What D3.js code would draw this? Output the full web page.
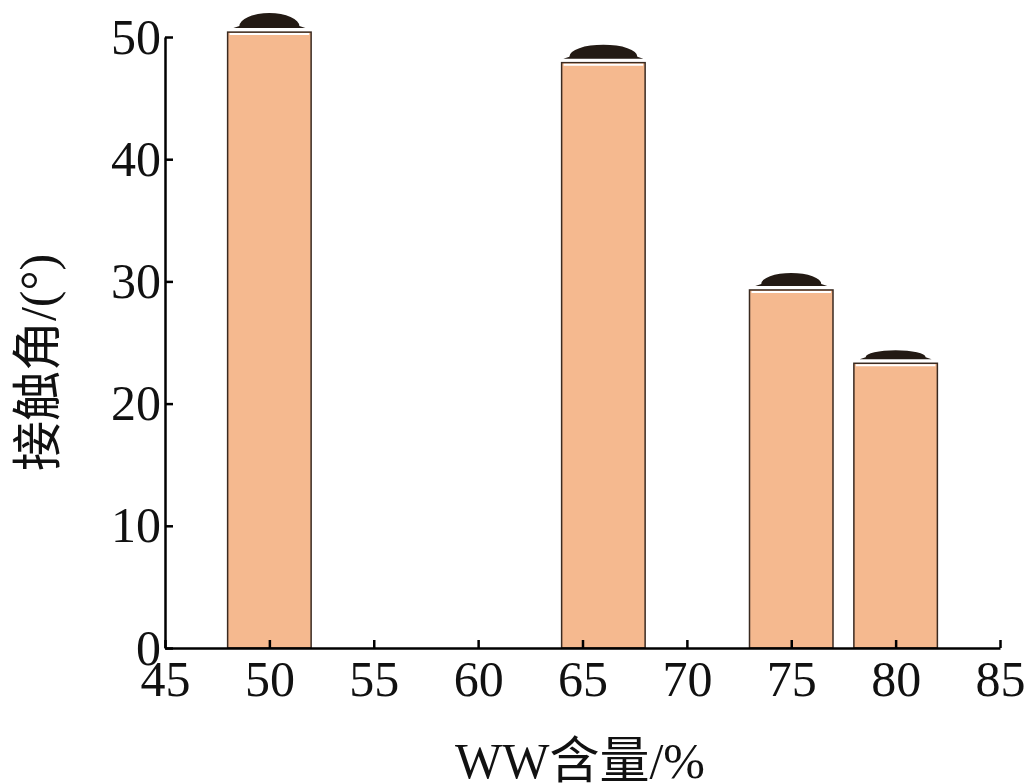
<!DOCTYPE html>
<html><head><meta charset="utf-8">
<script src="https://cdn.jsdelivr.net/npm/d3@7/dist/d3.min.js"></script>
<style>body{margin:0;background:#fff}</style></head>
<body><div id="chart"></div>
<script>
const wwContent = [50, 66, 75, 80]
const contactAngle = [50.4, 47.9, 29.3, 23.3]
const xTicks = [45, 50, 55, 60, 65, 70, 75, 80, 85]
const yTicks = [0, 10, 20, 30, 40, 50]

const W = 1027, H = 784
const margins = {top: 37, right: 27, bottom: 136, left: 165}
const width = W - margins.left - margins.right
const height = H - margins.top - margins.bottom

const xScale = d3.scaleLinear().domain([45, 85]).range([0, width])
const yScale = d3.scaleLinear().domain([0, 50]).range([height, 0])

const svg = d3.select('#chart').append('svg')
  .attr('width', W).attr('height', H)
  .append('g')
  .attr('transform', `translate(${margins.left}, ${margins.top})`)

const font = '"Liberation Serif", "Times New Roman", serif'

const bw = xScale(4) - xScale(0)
const bars = svg.selectAll('g.bar').data(wwContent).enter().append('g')
bars.append('rect')
  .attr('x', d => xScale(d) - bw / 2)
  .attr('y', (d, i) => yScale(contactAngle[i]))
  .attr('width', bw)
  .attr('height', (d, i) => height - yScale(contactAngle[i]))
  .attr('fill', '#f5b98f')
  .attr('stroke', '#3a2a20').attr('stroke-width', 1.5)
bars.append('line')
  .attr('x1', d => xScale(d) - bw / 2 + 2)
  .attr('x2', d => xScale(d) + bw / 2 - 2)
  .attr('y1', (d, i) => yScale(contactAngle[i]) + 2)
  .attr('y2', (d, i) => yScale(contactAngle[i]) + 2)
  .attr('stroke', '#fff').attr('stroke-width', 2)
// droplets
bars.append('path')
  .attr('d', (d, i) => {
    const cx = xScale(d), base = yScale(contactAngle[i]) - 4
    const rx = [30, 34, 30, 30][i], ry = [13, 12, 11, 7][i]
    return `M${cx - rx - 6},${base} L${cx - rx},${base - 2} A${rx},${ry} 0 0 1 ${cx + rx},${base - 2} L${cx + rx + 6},${base} Z`
  })
  .attr('fill', '#231a14')

svg.append('g').attr('transform', `translate(0, ${height})`)
  .call(d3.axisBottom(xScale).tickValues(xTicks).tickSize(-8).tickSizeOuter(0).tickPadding(12))
svg.append('g')
  .call(d3.axisLeft(yScale).tickValues(yTicks).tickSize(-8).tickSizeOuter(0).tickPadding(4))
svg.selectAll('.domain, .tick line').attr('stroke', '#000').attr('stroke-width', 2.5)
svg.selectAll('.tick text').attr('font-family', font).attr('font-size', 50).attr('fill', '#111')

svg.append('text')
  .attr('transform', `translate(${-margins.left + 55}, ${height / 2 + 20}) rotate(-90)`)
  .attr('text-anchor', 'middle').attr('font-family', font + ', "Noto Sans CJK SC"')
  .attr('font-size', 50).attr('fill', '#111')
  .text('接触角/(°)')
svg.append('text')
  .attr('transform', `translate(${580 - margins.left}, ${height + 130})`)
  .attr('text-anchor', 'middle').attr('font-family', font + ', "Noto Sans CJK SC"')
  .attr('font-size', 50).attr('fill', '#111')
  .text('WW含量/%')
</script></body></html>
